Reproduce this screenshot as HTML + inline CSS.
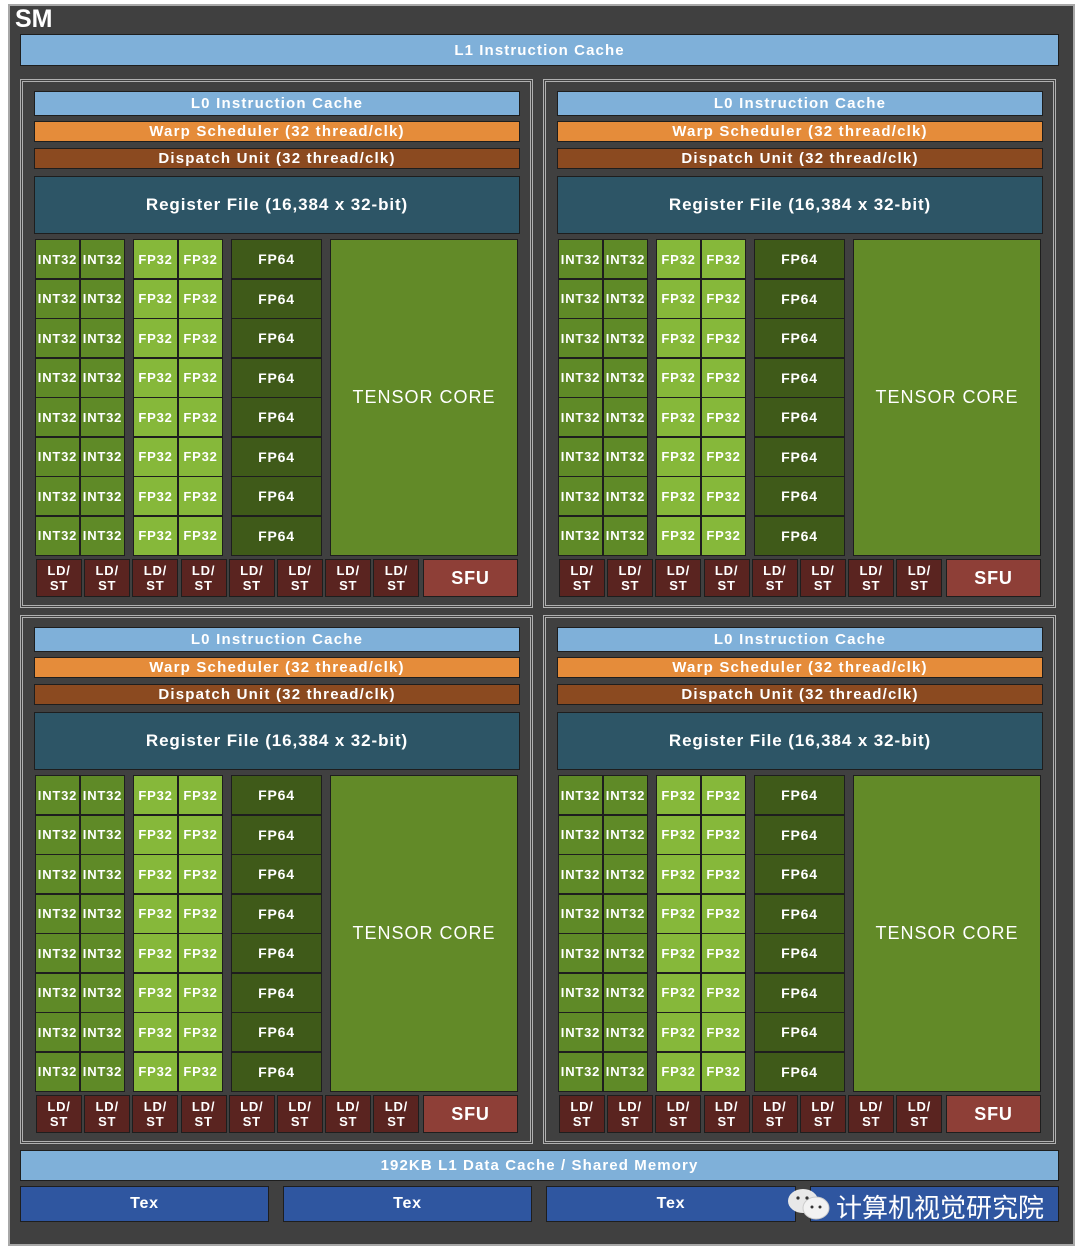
<!DOCTYPE html>
<html><head><meta charset="utf-8"><style>
html,body{margin:0;padding:0;background:#fff;}
body{width:1080px;height:1252px;position:relative;overflow:hidden;font-family:"Liberation Sans","Noto Sans CJK SC",sans-serif;font-weight:bold;color:#fff;letter-spacing:0.8px;}
.b{position:absolute;box-sizing:border-box;display:flex;align-items:center;justify-content:center;text-align:center;border:1.5px solid #1e1e1e;white-space:nowrap;}
</style></head><body>
<div class="b" style="left:8px;top:4px;width:1067px;height:1242px;background:#404040;border:2px solid #a8a8a8;"></div>
<div style="position:absolute;left:15px;top:5px;font-size:25px;letter-spacing:0;">SM</div>
<div class="b" style="left:20px;top:34px;width:1039px;height:32px;background:#7fb0d9;font-size:15px;letter-spacing:1.1px;">L1 Instruction Cache</div>
<div id="q"></div>
<div class="b" style="left:20px;top:1150px;width:1039px;height:31px;background:#7fb0d9;font-size:15px;letter-spacing:1.1px;">192KB L1 Data Cache / Shared Memory</div>
<div class="b" style="left:20px;top:1186px;width:249px;height:36px;background:#2f56a0;font-size:16px;">Tex</div>
<div class="b" style="left:283px;top:1186px;width:249px;height:36px;background:#2f56a0;font-size:16px;">Tex</div>
<div class="b" style="left:546px;top:1186px;width:250px;height:36px;background:#2f56a0;font-size:16px;">Tex</div>
<div class="b" style="left:810px;top:1186px;width:249px;height:36px;background:#2f56a0;"></div>
<div style="position:absolute;left:786px;top:1184px;width:270px;height:40px;">
<svg width="50" height="40" style="position:absolute;left:0;top:0"><ellipse cx="17" cy="17" rx="15" ry="12" fill="#e8e8e8"/><ellipse cx="30" cy="24" rx="13" ry="11" fill="#f2f2f2" stroke="#ccc"/><circle cx="12" cy="14" r="1.6" fill="#333"/><circle cx="21" cy="14" r="1.6" fill="#333"/><circle cx="26" cy="23" r="1.5" fill="#333"/><circle cx="34" cy="23" r="1.5" fill="#333"/></svg>
<span style="position:absolute;left:50px;top:4px;font-size:26px;font-weight:normal;white-space:nowrap;letter-spacing:0;">计算机视觉研究院</span></div>
<script>
var quads=[[20,79],[543,79],[20,615],[543,615]];
var root=document.getElementById('q');
function box(x,y,w,h,bg,txt,fs,name){
  var d=document.createElement('div');
  d.className='b';
  d.style.cssText='left:'+x+'px;top:'+y+'px;width:'+w+'px;height:'+h+'px;background:'+bg+';font-size:'+fs+'px;';
  d.innerHTML=txt;
  
  
  root.appendChild(d);return d;
}
quads.forEach(function(q,i){
  var X=q[0],Y=q[1];
  var p=box(X,Y,513,529,'transparent','',10,'processing-block');
  p.style.border='3px double #b0b0b0';
  var a=box(X+14,Y+12,486,25,'#7fb0d9','L0 Instruction Cache',15,'l0-instruction-cache');
  a.style.letterSpacing='1.2px';
  var b=box(X+14,Y+42,486,21,'#e58c3a','Warp Scheduler (32 thread/clk)',15,'warp-scheduler');
  b.style.letterSpacing='1.2px';
  var c=box(X+14,Y+69,486,21,'#8b4a20','Dispatch Unit (32 thread/clk)',15,'dispatch-unit');
  c.style.letterSpacing='1.2px';
  var r0=box(X+14,Y+97,486,58,'#2d5566','Register File (16,384 x 32-bit)',17,'register-file');
  r0.style.letterSpacing='0.9px';
  for(var r=0;r<8;r++){
    var y=Y+160+r*39.5;
    box(X+15,y,45,40,'#5f8a27','INT32',13,'int32-unit');
    box(X+60,y,45,40,'#5f8a27','INT32',13,'int32-unit');
    box(X+113,y,45,40,'#86b83a','FP32',13,'fp32-unit');
    box(X+158,y,45,40,'#86b83a','FP32',13,'fp32-unit');
    box(X+211,y,91,40,'#3f5a19','FP64',14,'fp64-unit');
  }
  var t=box(X+310,Y+160,188,317,'#628a28','TENSOR CORE',18,'tensor-core');
  t.style.fontWeight='normal';t.style.letterSpacing='1px';
  for(var k=0;k<8;k++){
    box(X+16+k*48.2,Y+480,46,38,'#5a2420','LD/<br>ST',13,'ld-st-unit');
  }
  var s=box(X+403,Y+480,95,38,'#8e3f37','SFU',18,'sfu-unit');
});
</script>
</body></html>
